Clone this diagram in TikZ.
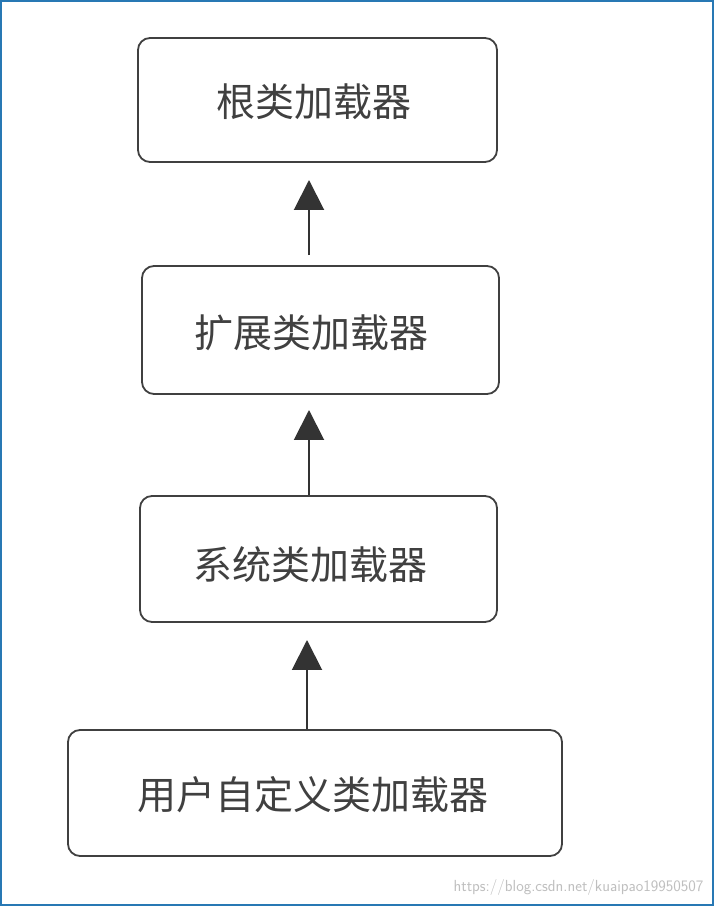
\documentclass[tikz,border=0pt]{standalone}
\usepackage{fontspec}
\newfontfamily\cjk{Noto Sans CJK SC}
\usetikzlibrary{arrows.meta}
\begin{document}
\begin{tikzpicture}[x=1pt,y=1pt,
  boxst/.style={draw=black!75,line width=1.8pt,rounded corners=12pt,fill=white},
  lbl/.style={font=\cjk\fontsize{39}{42}\selectfont,text=black!75},
  arr/.style={draw=black!80,line width=2pt,-{Triangle[width=30pt,length=30pt]}}]
\useasboundingbox (0,0) rectangle (714,906);
\fill[white] (0,0) rectangle (714,906);
\draw[color={rgb,255:red,40;green,120;blue,180},line width=2pt] (1,1) rectangle (713,905);
\node[boxst,minimum width=359pt,minimum height=124pt] (b1) at (317.5,806) {};
\node[boxst,minimum width=357pt,minimum height=128pt] (b2) at (320.5,576) {};
\node[boxst,minimum width=357pt,minimum height=126pt] (b3) at (318.5,347) {};
\node[boxst,minimum width=494pt,minimum height=126pt] (b4) at (315,113) {};
\node[lbl] (l1) at (314,804) {根类加载器};
\node[lbl] (l2) at (311,573) {扩展类加载器};
\node[lbl] (l3) at (310,341) {系统类加载器};
\node[lbl] (l4) at (313,111) {用户自定义类加载器};
\coordinate (t1) at (309,726);
\coordinate (t2) at (309,496);
\coordinate (t3) at (307,266);
\draw[arr] (b2.north -| t1) ++(0,10) -- (t1);
\draw[arr] (b3.north -| t2) -- (t2);
\draw[arr] (b4.north -| t3) -- (t3);
\node[font=\fontsize{16}{18}\selectfont\sffamily,text=black!25,anchor=east] (wm) at (707,18) {https://blog.csdn.net/kuaipao19950507};
\end{tikzpicture}
\end{document}
